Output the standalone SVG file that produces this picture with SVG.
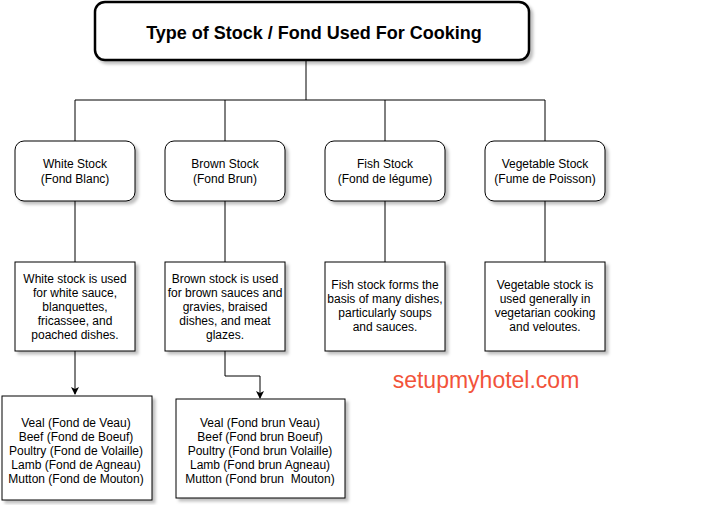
<svg xmlns="http://www.w3.org/2000/svg" width="708" height="505" viewBox="0 0 708 505">
<defs>
<filter id="sh" x="-10%" y="-10%" width="130%" height="130%">
<feDropShadow dx="3" dy="3" stdDeviation="1.5" flood-color="#000" flood-opacity="0.25"/>
</filter>
<marker id="arr" markerWidth="10" markerHeight="10" refX="8" refY="5" orient="auto" markerUnits="userSpaceOnUse">
<path d="M1,1 L9,5 L1,9 L3,5 Z" fill="#000"/>
</marker>
</defs>
<style>
.box{fill:#fff;stroke:#000;stroke-width:1;filter:url(#sh)}
.t{font-family:"Liberation Sans",Arial,sans-serif;font-size:12px;fill:#000;text-anchor:middle}
.title{font-family:"Liberation Sans",Arial,sans-serif;font-size:18px;font-weight:bold;fill:#000;text-anchor:middle}
.ln{fill:none;stroke:#000;stroke-width:1}
</style>
<rect width="708" height="505" fill="#fff"/>
<g id="connectors">
<path class="ln" d="M306,60 V100 M75,100 H545 M75,100 V141 M225,100 V141 M385,100 V141 M545,100 V141"/>
<path class="ln" d="M75,201 V262 M225,201 V262 M385,201 V262 M545,201 V262"/>
<path class="ln" d="M75,351 V394" marker-end="url(#arr)"/>
<path class="ln" d="M225,351 V376 H260 V398" marker-end="url(#arr)"/>
</g>
<g id="title">
<rect class="box" x="95" y="2" width="434" height="58" rx="10" style="stroke-width:2.5"/>
<text class="title" x="314" y="39">Type of Stock / Fond Used For Cooking</text>
</g>
<g id="white">
<rect class="box" x="15" y="141" width="120" height="60" rx="9"/>
<text class="t" x="75" y="168">White Stock</text>
<text class="t" x="75" y="183">(Fond Blanc)</text>
</g>
<g id="brown">
<rect class="box" x="165" y="141" width="120" height="60" rx="9"/>
<text class="t" x="225" y="168">Brown Stock</text>
<text class="t" x="225" y="183">(Fond Brun)</text>
</g>
<g id="fish">
<rect class="box" x="325" y="141" width="120" height="60" rx="9"/>
<text class="t" x="385" y="168">Fish Stock</text>
<text class="t" x="385" y="183">(Fond de légume)</text>
</g>
<g id="veg">
<rect class="box" x="485" y="141" width="120" height="60" rx="9"/>
<text class="t" x="545" y="168">Vegetable Stock</text>
<text class="t" x="545" y="183">(Fume de Poisson)</text>
</g>
<g id="white-desc">
<rect class="box" x="15" y="262" width="120" height="89"/>
<text class="t" x="75" y="283">White stock is used</text>
<text class="t" x="75" y="297">for white sauce,</text>
<text class="t" x="75" y="311">blanquettes,</text>
<text class="t" x="75" y="325">fricassee, and</text>
<text class="t" x="75" y="339">poached dishes.</text>
</g>
<g id="brown-desc">
<rect class="box" x="165" y="262" width="120" height="89"/>
<text class="t" x="225" y="283">Brown stock is used</text>
<text class="t" x="225" y="297">for brown sauces and</text>
<text class="t" x="225" y="311">gravies, braised</text>
<text class="t" x="225" y="325">dishes, and meat</text>
<text class="t" x="225" y="339">glazes.</text>
</g>
<g id="fish-desc">
<rect class="box" x="325" y="262" width="120" height="89"/>
<text class="t" x="385" y="289">Fish stock forms the</text>
<text class="t" x="385" y="303">basis of many dishes,</text>
<text class="t" x="385" y="317">particularly soups</text>
<text class="t" x="385" y="331">and sauces.</text>
</g>
<g id="veg-desc">
<rect class="box" x="485" y="262" width="120" height="89"/>
<text class="t" x="545" y="289">Vegetable stock is</text>
<text class="t" x="545" y="303">used generally in</text>
<text class="t" x="545" y="317">vegetarian cooking</text>
<text class="t" x="545" y="331">and veloutes.</text>
</g>
<g id="white-list">
<rect class="box" x="2" y="396" width="150" height="104"/>
<text class="t" x="76" y="427">Veal (Fond de Veau)</text>
<text class="t" x="76" y="441">Beef (Fond de Boeuf)</text>
<text class="t" x="76" y="455">Poultry (Fond de Volaille)</text>
<text class="t" x="76" y="469">Lamb (Fond de Agneau)</text>
<text class="t" x="76" y="483">Mutton (Fond de Mouton)</text>
</g>
<g id="brown-list">
<rect class="box" x="176" y="399" width="169" height="99"/>
<text class="t" x="260" y="427">Veal (Fond brun Veau)</text>
<text class="t" x="260" y="441">Beef (Fond brun Boeuf)</text>
<text class="t" x="260" y="455">Poultry (Fond brun Volaille)</text>
<text class="t" x="260" y="469">Lamb (Fond brun Agneau)</text>
<text class="t" x="260" y="483" style="white-space:pre" xml:space="preserve">Mutton (Fond brun  Mouton)</text>
</g>
<text x="486" y="388" style="font-family:'Liberation Sans',Arial,sans-serif;font-size:23px;fill:#F2533A;text-anchor:middle">setupmyhotel.com</text>
</svg>
